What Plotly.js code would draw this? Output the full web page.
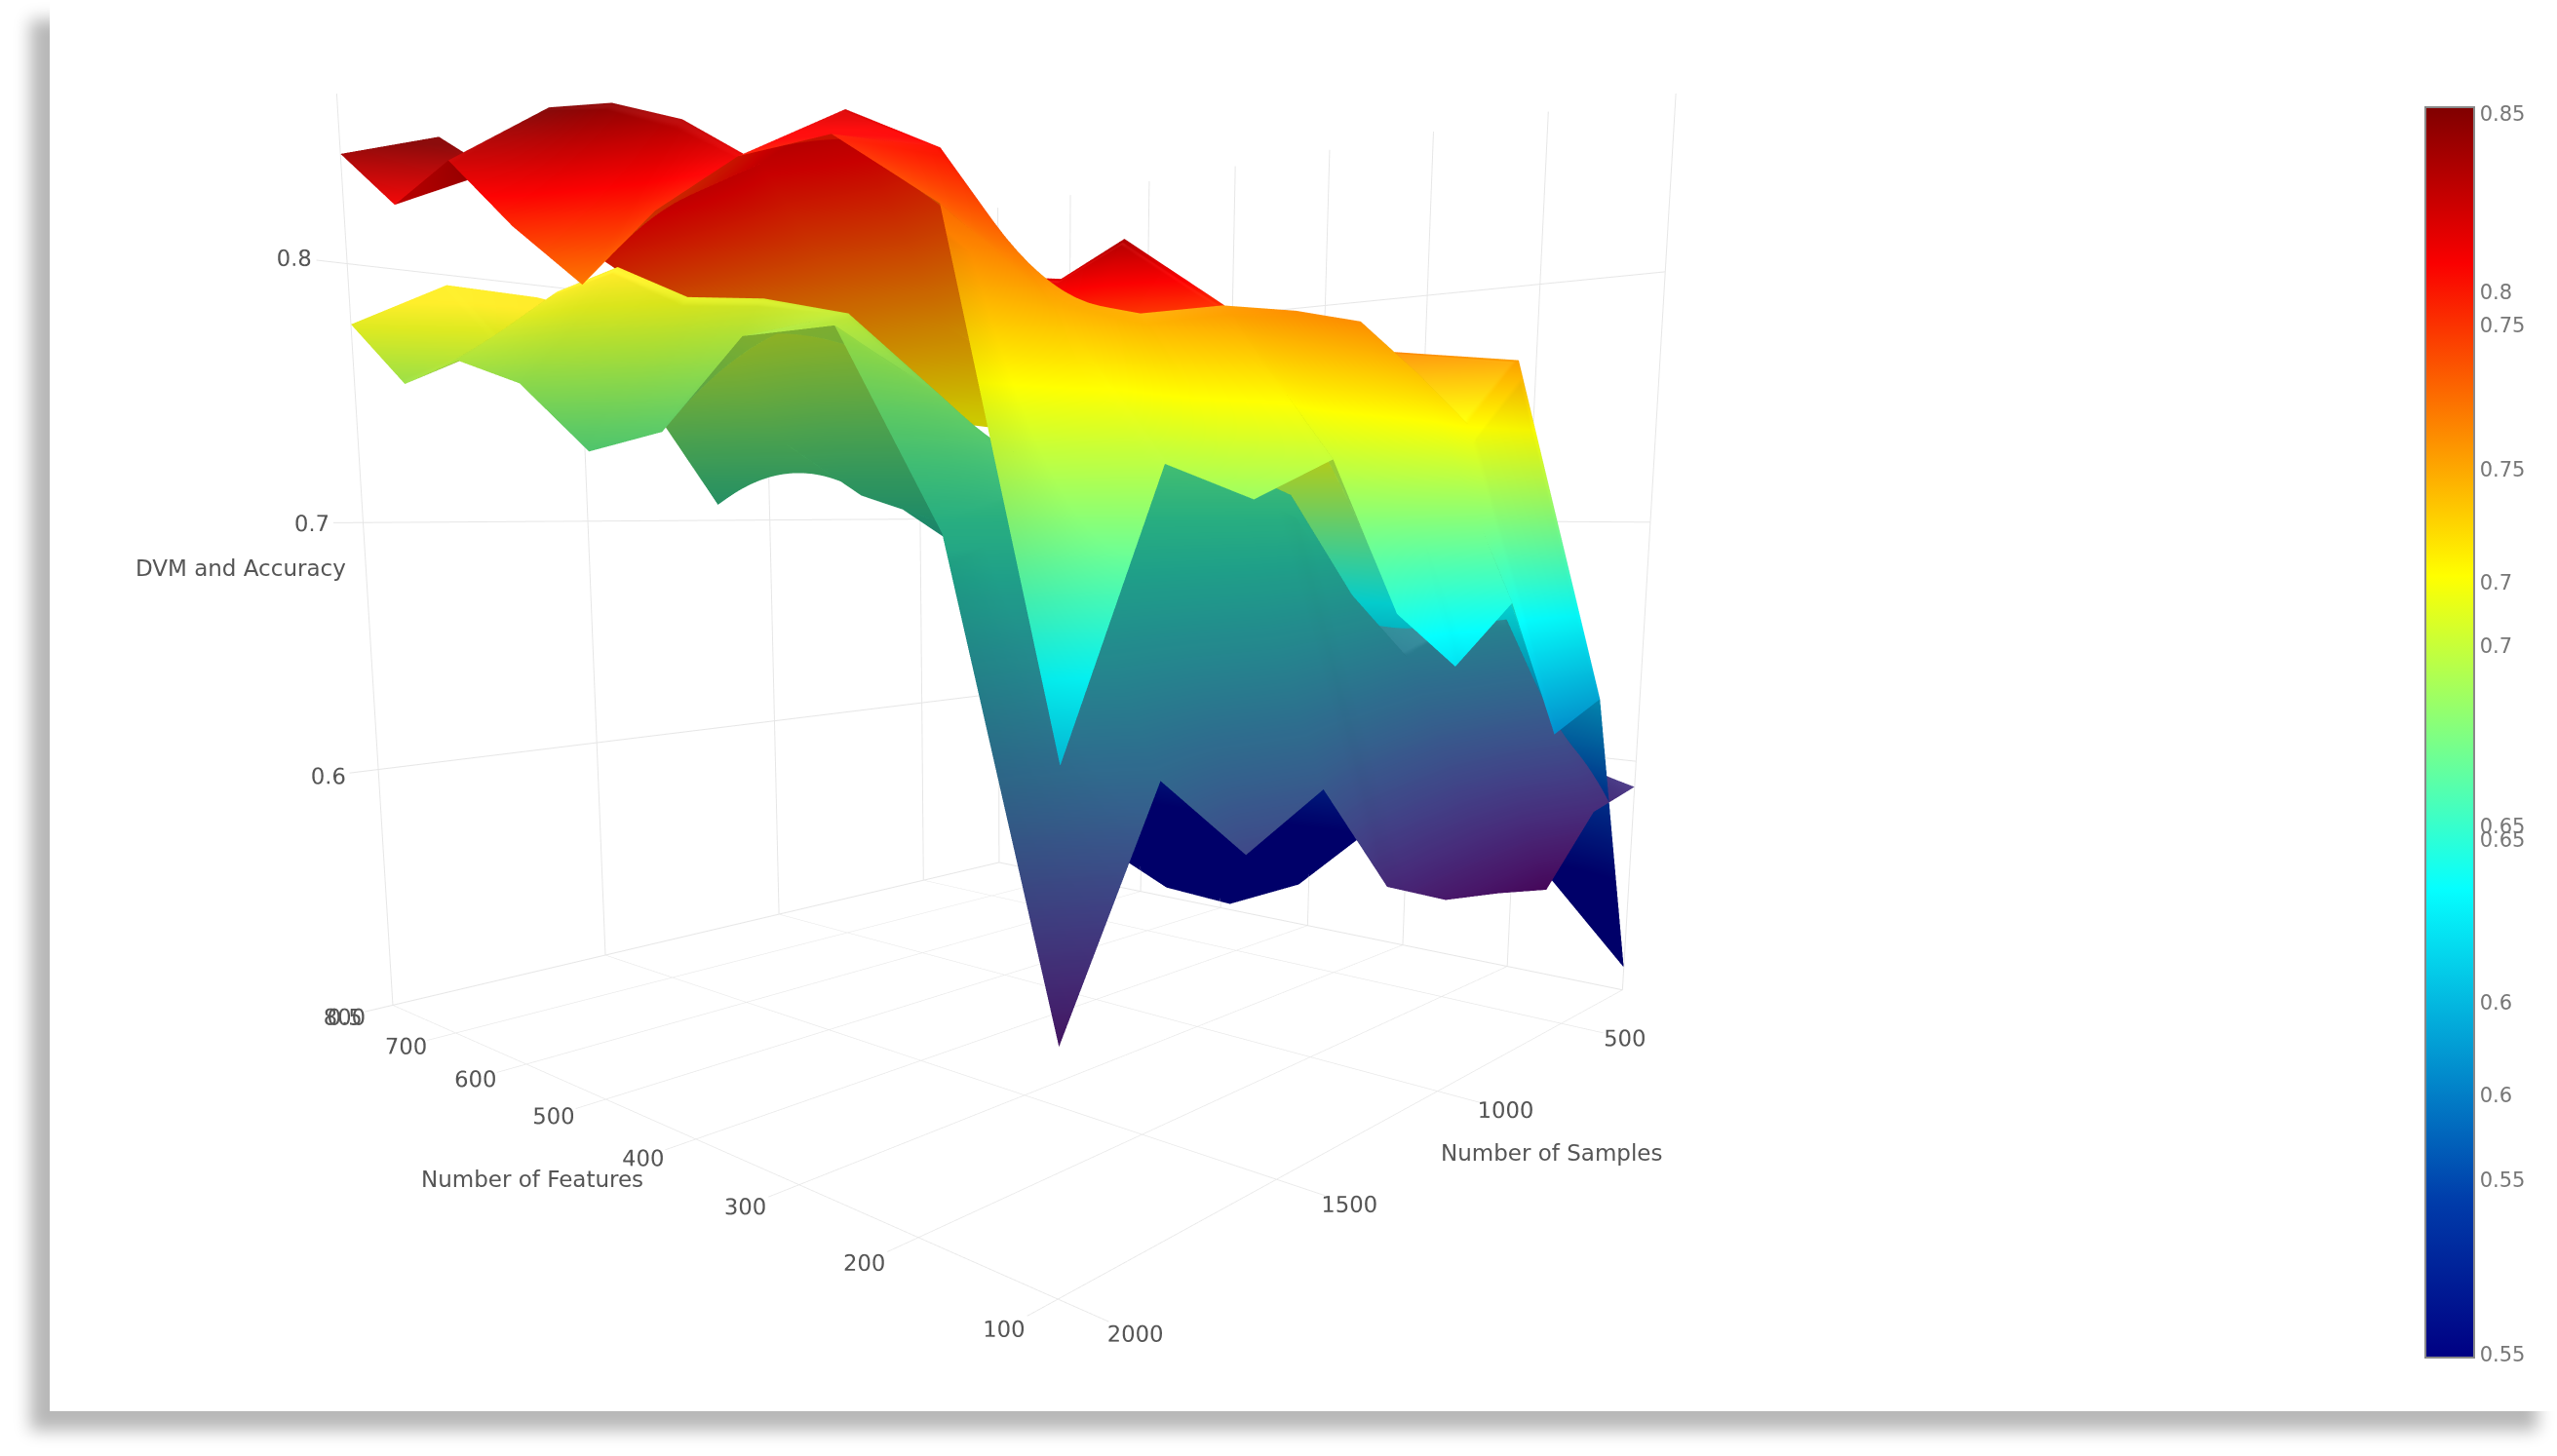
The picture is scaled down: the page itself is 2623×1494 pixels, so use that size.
<!DOCTYPE html>
<html><head><meta charset="utf-8">
<script src="https://cdn.plot.ly/plotly-3.0.1.min.js"></script>
<style>
html,body{margin:0;padding:0;background:#fff;width:2623px;height:1494px;overflow:hidden}
#box{position:absolute;left:51px;top:0;width:2572px;height:1448px;background:#fff;box-shadow:-20px 20px 16px #b8b8b8}
#chart{width:2572px;height:1448px;filter:blur(.7px)}
</style></head><body><div id="box"><div id="chart"></div></div>
<script>
const samples=[2000,1800,1600,1400,1200,1000,800,600,400,200];
const features=[100,178,256,333,411,489,567,644,722,800];
const sampleTicks=[500,1000,1500,2000];
const upperZ=[
[.642,.717,.708,.72,.672,.652,.672,.62,.63,.51],
[.782,.763,.762,.768,.77,.77,.755,.738,.765,.55],
[.805,.808,.745,.76,.765,.755,.755,.75,.77,.56],
[.805,.825,.765,.745,.745,.745,.75,.76,.775,.555],
[.795,.815,.77,.74,.735,.74,.75,.76,.785,.52],
[.777,.835,.772,.75,.74,.74,.75,.76,.81,.503],
[.80,.847,.78,.77,.75,.75,.76,.77,.835,.505],
[.827,.852,.79,.80,.77,.76,.77,.78,.82,.52],
[.817,.835,.81,.81,.80,.79,.78,.79,.825,.60],
[.841,.854,.82,.82,.82,.81,.80,.81,.835,.80]];
const lowerZ=[
[.569,.633,.606,.62,.582,.57,.565,.559,.584,.589],
[.699,.71,.72,.72,.71,.675,.65,.66,.66,.60],
[.755,.738,.705,.70,.70,.68,.67,.655,.63,.60],
[.755,.765,.737,.70,.70,.68,.67,.66,.64,.60],
[.729,.773,.71,.70,.70,.69,.68,.66,.64,.60],
[.724,.777,.729,.71,.71,.70,.68,.66,.64,.60],
[.748,.791,.707,.73,.72,.71,.69,.67,.65,.60],
[.758,.786,.745,.76,.74,.72,.70,.68,.65,.60],
[.752,.77,.76,.77,.75,.73,.71,.69,.67,.61],
[.777,.796,.795,.79,.776,.77,.75,.73,.70,.63]];
const barTicks=[.8485,.8056,.7978,.763,.736,.7207,.6775,.6742,.6352,.613,.5926,.5509];
const barLabels=['0.85','0.8','0.75','0.75','0.7','0.7','0.65','0.65','0.6','0.6','0.55','0.55'];
const fam='"DejaVu Sans",Verdana,sans-serif';
const tickF={family:fam,size:16.5,color:'#555'};
const ax=(extra)=>Object.assign({title:{text:''},tickfont:tickF,tickangle:0,gridcolor:'#e6e6e6',gridwidth:2,zeroline:false,showline:false,showspikes:false,showbackground:false,ticks:'outside',ticklen:25,tickwidth:2,tickcolor:'#e6e6e6'},extra);
const jet=[[0,'rgb(0,0,131)'],[.125,'rgb(0,60,170)'],[.375,'rgb(5,255,255)'],[.625,'rgb(255,255,0)'],[.875,'rgb(250,0,0)'],[1,'rgb(128,0,0)']];
const note=(t,xd,yd)=>({text:t,xref:'paper',yref:'paper',x:(xd*1.681-51)/2572,y:1-yd*1.681/1448,xanchor:'center',yanchor:'middle',showarrow:false,font:{family:fam,size:23,color:'#555'}});
const xPlot=samples.map(v=>-v);
Plotly.newPlot('chart',[
{type:'surface',x:xPlot,y:features,z:upperZ,colorscale:jet,cmin:.55,cmax:.85,hoverinfo:'skip',
 colorbar:{tickmode:'array',tickvals:barTicks,ticktext:barLabels,x:.9475,xanchor:'left',thickness:50,lenmode:'pixels',len:1283,y:.924,yanchor:'top',ypad:0,xpad:0,outlinecolor:'#888',outlinewidth:2,ticks:'',tickfont:{family:fam,size:21,color:'#777'}}},
{type:'surface',x:xPlot,y:features,z:lowerZ,colorscale:'Viridis',cmin:.555,cmax:.79,showscale:false,hoverinfo:'skip'}
],{
 paper_bgcolor:'#fff',margin:{l:0,r:0,t:0,b:0},width:2572,height:1448,
 annotations:[note('DVM and Accuracy',147,347),note('Number of Features',325,720),note('Number of Samples',947,704)],
 scene:{domain:{x:[0,.7718],y:[0,.934]},
  xaxis:ax({range:[-2000,-200],tickvals:sampleTicks.map(v=>-v),ticktext:sampleTicks.map(String)}),
  yaxis:ax({tickvals:[100,200,300,400,500,600,700,800],range:[100,800],ticklen:36}),
  zaxis:ax({range:[.5,.87],tickvals:[.5,.6,.7,.8],ticklen:10}),
  aspectmode:'cube',
  camera:{eye:{x:-1.298,y:-1.196,z:.055},center:{x:0,y:0,z:-.215},up:{x:0,y:0,z:1}}}
},{displayModeBar:false});
</script></body></html>
